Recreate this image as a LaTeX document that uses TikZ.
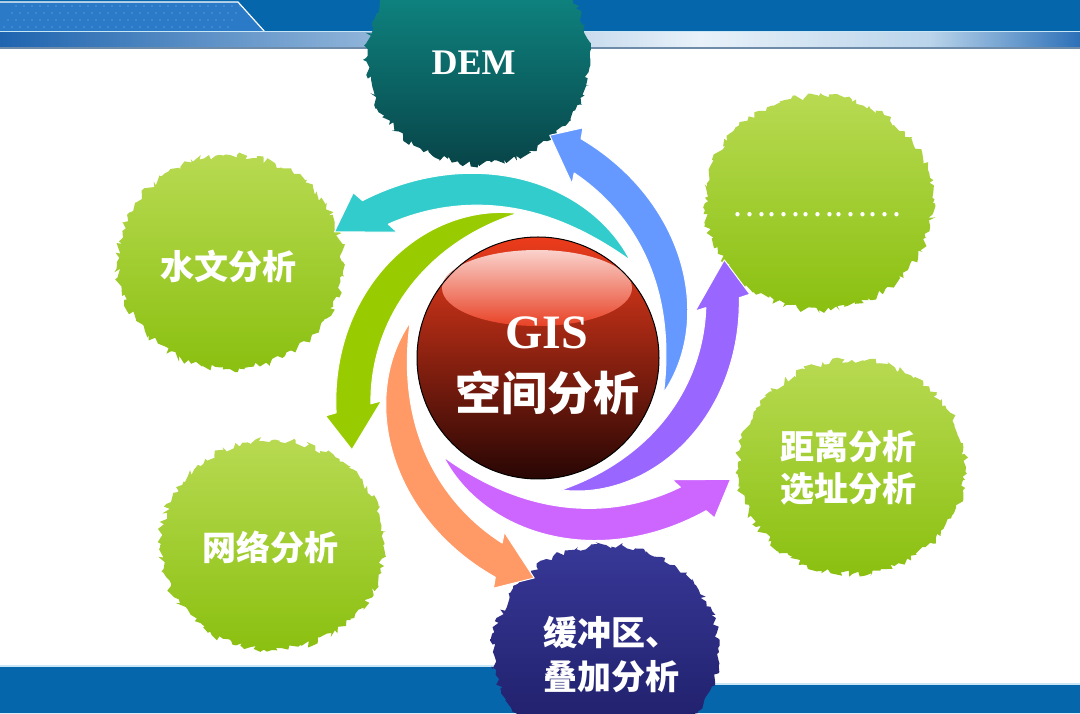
\documentclass[tikz,border=0pt]{standalone}
\usepackage{fontspec}
\setmainfont{Liberation Serif}
\newfontfamily\cjk{Noto Sans CJK SC}
\usetikzlibrary{decorations.pathmorphing}
\definecolor{bandblue}{RGB}{6,102,172}
\definecolor{dotblue}{RGB}{42,122,200}
\definecolor{dotlight}{RGB}{90,150,215}
\definecolor{stA}{RGB}{30,100,175}
\definecolor{stB}{RGB}{140,178,216}
\definecolor{stC}{RGB}{232,241,249}
\definecolor{stD}{RGB}{186,212,234}
\definecolor{stE}{RGB}{44,112,184}
\definecolor{stline}{RGB}{110,140,170}
\definecolor{lightline}{RGB}{200,230,245}
\definecolor{greentop}{RGB}{184,218,82}
\definecolor{greenbot}{RGB}{138,192,16}
\definecolor{tealtop}{RGB}{16,148,142}
\definecolor{tealbot}{RGB}{8,68,72}
\definecolor{navytop}{RGB}{56,56,152}
\definecolor{navybot}{RGB}{28,28,100}
\definecolor{arTeal}{RGB}{51,204,204}
\definecolor{arBlue}{RGB}{102,153,255}
\definecolor{arPurple}{RGB}{153,102,255}
\definecolor{arMagenta}{RGB}{204,102,255}
\definecolor{arOrange}{RGB}{255,153,102}
\definecolor{arGreen}{RGB}{153,204,0}
\definecolor{sphTop}{RGB}{236,60,28}
\definecolor{sphMid}{RGB}{198,42,16}
\definecolor{sphBot}{RGB}{40,6,4}
\definecolor{glossTop}{RGB}{250,210,204}
\definecolor{glossBot}{RGB}{232,66,38}
\newcommand\swirl[9]{%
  \fill[#1, draw=white, line width=1pt, line join=round]
    plot[variable=\u, domain=0:1, samples=60]
      ({(#2)+\u*((#4)-(#2))}:{(#3)+((#5)-(#3))*(0.3*\u+0.7*\u*\u)+0.5*(#6)*(1-(1-\u)*(1-\u)*(1-\u))})
    -- ({#4}:{(#5)+0.5*(#7)})
    -- ({#8}:{#9})
    -- ({#4}:{(#5)-0.5*(#7)})
    -- plot[variable=\u, domain=0:1, samples=60]
      ({(#4)-\u*((#4)-(#2))}:{(#3)+((#5)-(#3))*(0.3*(1-\u)+0.7*(1-\u)*(1-\u))-0.5*(#6)*(1-\u*\u*\u)})
    -- cycle;}
\tikzset{
  bubble/.style={decorate, decoration={random steps, segment length=3.5pt, amplitude=3.5pt}},
  lbl/.style={text=white, inner sep=0pt, align=center, font=\cjk\bfseries\fontsize{34}{42}\selectfont},
}
\begin{document}
\begin{tikzpicture}[x=1pt,y=1pt]
\useasboundingbox (0,0) rectangle (1080,713);
\clip (0,0) rectangle (1080,713);
\fill[white] (0,0) rectangle (1080,713);
% top banner
\fill[bandblue] (0,681) rectangle (1080,713);
\fill[dotblue] (0,681) -- (0,711) -- (238,711) -- (265,681) -- cycle;
\foreach \j in {0,...,3}{
  \foreach \i in {0,...,28}{
    \fill[dotlight] ({\i*8+4+\j*4},{686+\j*7}) circle (0.9);
  }
}
\draw[white, line width=1.2pt] (0,711) -- (238,711) -- (265,681);
\shade[left color=stA, right color=stB] (0,665) rectangle (360,681);
\shade[left color=stB, right color=stC] (360,665) rectangle (700,681);
\shade[left color=stC, right color=stD] (700,665) rectangle (930,681);
\shade[left color=stD, right color=stE] (930,665) rectangle (1080,681);
\draw[lightline, line width=1pt] (0,681) -- (1080,681);
\draw[stline, line width=1.2pt] (0,665) -- (1080,665);
% bottom banner
\fill[bandblue] (0,0) -- (0,46) -- (600,46) -- (600,28) -- (1080,28) -- (1080,0) -- cycle;
\draw[lightline, line width=1.5pt] (0,47) -- (600,47);
\draw[lightline, line width=1.5pt] (600,29) -- (1080,29);
% bubbles
\pgfmathsetseed{11}
\path[bubble, top color=tealtop, bottom color=tealbot] (478,655) ellipse (112 and 106);
\pgfmathsetseed{12}
\path[bubble, top color=greentop, bottom color=greenbot] (230,451) ellipse (113 and 107);
\pgfmathsetseed{13}
\path[bubble, top color=greentop, bottom color=greenbot] (819,510) ellipse (114 and 107);
\pgfmathsetseed{14}
\path[bubble, top color=greentop, bottom color=greenbot] (852,246) ellipse (114 and 107);
\pgfmathsetseed{15}
\path[bubble, top color=greentop, bottom color=greenbot] (272,168) ellipse (112 and 105);
\pgfmathsetseed{16}
\path[bubble, top color=navytop, bottom color=navybot] (606,61) ellipse (113 and 107);
% swirl arrows around the centre
\begin{scope}[shift={(538,354)}]
\swirl{arGreen}{98}{147}{195}{191}{36}{58}{206}{207}
\swirl{arOrange}{164}{133}{259}{205}{35}{57}{269}{219}
\swirl{arMagenta}{-134}{136}{-42}{209}{35}{57}{-32}{227}
\swirl{arPurple}{-80}{133}{17}{193}{35}{57}{28}{211}
\swirl{arBlue}{-15}{130}{79}{207}{35}{57}{87}{224}
\swirl{arTeal}{47}{135}{138}{219}{35}{59}{148}{240}
\end{scope}
% centre sphere
\shade[top color=sphTop, middle color=sphMid, bottom color=sphBot] (538,355) circle (121);
\shade[top color=glossTop, bottom color=glossBot] (537,425) ellipse (95 and 38);
\draw[black, line width=1pt] (538,355) circle (121);
\node[text=white, inner sep=0pt, font=\bfseries\fontsize{48}{48}\selectfont] (gis) at (547,380) {GIS};
\node[text=white, inner sep=0pt, font=\cjk\bfseries\fontsize{46}{46}\selectfont] (kj) at (547,320) {空间分析};
% labels
\node[text=white, inner sep=0pt, font=\bfseries\fontsize{36}{36}\selectfont] (dem) at (473.5,650) {DEM};
\node[lbl] (sw) at (228,447) {水文分析};
\node[lbl, font=\cjk\fontsize{32}{32}\selectfont] (dots) at (817,498) {……………};
\node[lbl] (jl) at (848,245) {距离分析\\选址分析};
\node[lbl] (wl) at (270,166) {网络分析};
\node[lbl, align=left, font=\cjk\bfseries\fontsize{34}{44}\selectfont] (hc) at (611,58) {缓冲区、\\叠加分析};
\end{tikzpicture}
\end{document}
